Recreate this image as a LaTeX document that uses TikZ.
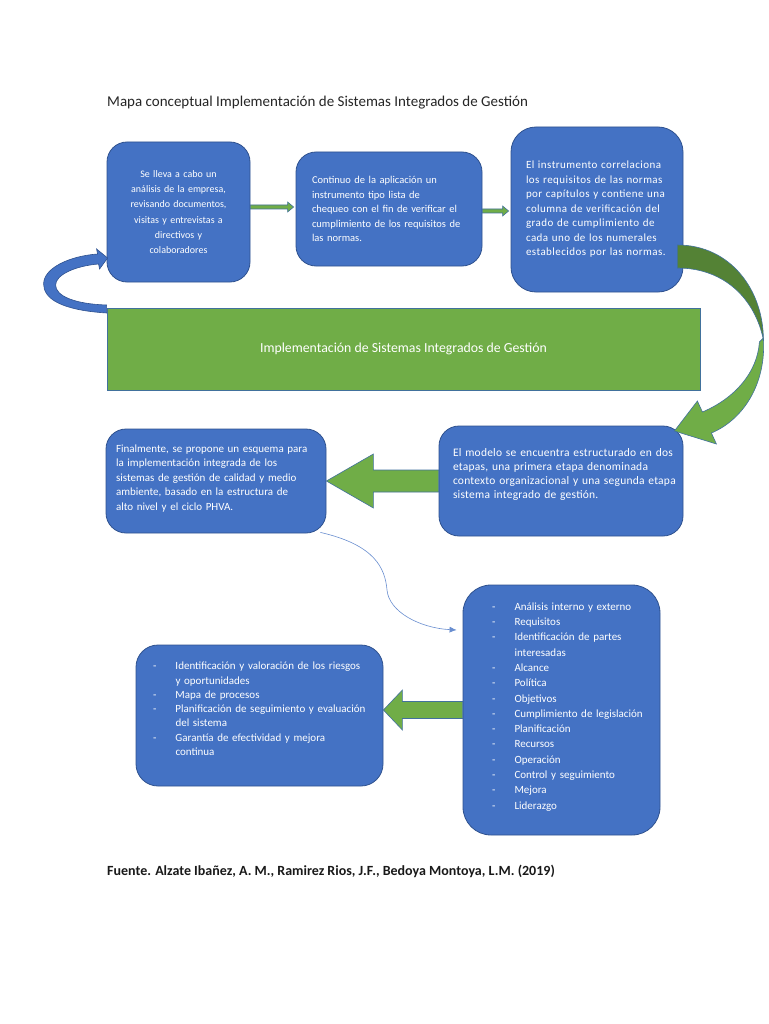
\documentclass[tikz,border=0pt]{standalone}
\usepackage{fontspec}
\setmainfont{Carlito}
\usetikzlibrary{calc,arrows.meta}

\definecolor{BoxBlue}{HTML}{4472C4}
\definecolor{EdgeBlue}{HTML}{2F528F}
\definecolor{LeafGreen}{HTML}{70AD47}
\definecolor{DeepGreen}{HTML}{548235}
\definecolor{EdgeSlate}{HTML}{41719C}

\tikzstyle{BlueBox}=[rectangle,draw=EdgeBlue,fill=BoxBlue,line width=0.8pt,
  rounded corners=20pt,text=white,inner sep=0pt,font=\fontsize{11}{14.5}\selectfont]
\tikzstyle{GreenBand}=[rectangle,draw=EdgeSlate,fill=LeafGreen,line width=0.6pt,
  text=white,font=\fontsize{13.8}{16}\selectfont]
\tikzstyle{BlockArrow}=[fill=LeafGreen,draw=EdgeSlate,line width=0.6pt]
\tikzstyle{ThinArrow}=[draw=BoxBlue!80,line width=0.6pt,-{Latex[length=7pt,width=6pt]}]

% list item with a dash and a hanging indent
\newcommand{\Guion}[1]{\par\hangindent=22.5pt\hangafter=1\noindent\makebox[22.5pt][l]{-}#1\par}
% raises the text of a box by half the given space
\newcommand{\Subir}[1]{\par\vspace*{#1}}
% straight block arrow: tail, tip, head length, head half width, shaft half width
\newcommand{\FlechaBloque}[5]{%
  \filldraw[BlockArrow] (#2) -- ($(#2)+(#3,-#4)$) -- ($(#2)+(#3,-#5)$) -- ($(#1)+(0,-#5)$)
    -- ($(#1)+(0,#5)$) -- ($(#2)+(#3,#5)$) -- ($(#2)+(#3,#4)$) -- cycle;}

\begin{document}
\begin{tikzpicture}[x=1pt, y=-1pt]
		\path[use as bounding box,fill=white] (0,0) rectangle (768,1024);
		
		% Title and source
		\node[anchor=base west,inner sep=0pt,text=black!85,font=\fontsize{15}{18}\selectfont] (Titulo) at (107,107)
		  {Mapa conceptual Implementación de Sistemas Integrados de Gestión};
		\node[anchor=base west,inner sep=0pt,text=black!90,font=\bfseries\fontsize{14}{17}\selectfont] (Fuente) at (107,875)
		  {Fuente. Alzate Ibañez, A. M., Ramirez Rios, J.F., Bedoya Montoya, L.M. (2019)};
		
		% Top row
		\node[BlueBox,minimum width=143pt,minimum height=140pt,text width=125pt,align=center,
		  font=\fontsize{10}{15.2}\selectfont] (Analisis) at (178.5,212)
		  {Se lleva a cabo un\\análisis de la empresa,\\revisando documentos,\\visitas y entrevistas a\\directivos y\\colaboradores};
		\node[BlueBox,minimum width=186pt,minimum height=114pt,text width=154pt,align=left,
		  font=\fontsize{10.5}{14.5}\selectfont] (Chequeo) at (389,209)
		  {Continuo de la aplicación un\\instrumento tipo lista de\\chequeo con el fin de verificar el\\cumplimiento de los requisitos de\\las normas.};
		\node[BlueBox,rounded corners=25pt,minimum width=172pt,minimum height=165pt,text width=142pt,align=left,
		  font=\fontsize{11}{14.5}\selectfont\addfontfeature{LetterSpace=4}] (Correlacion) at (597,209.5)
		  {El instrumento correlaciona\\los requisitos de las normas\\por capítulos y contiene una\\columna de verificación del\\grado de cumplimiento de\\cada uno de los numerales\\establecidos por las normas.};
		
		% Banner
		\node[GreenBand,minimum width=593pt,minimum height=82pt] (Banner) at (403.5,349)
		  {Implementación de Sistemas Integrados de Gestión};
		
		% Middle row
		\node[BlueBox,minimum width=244pt,minimum height=110pt,text width=230pt,align=left,
		  font=\fontsize{11.5}{14}\selectfont\addfontfeature{LetterSpace=2}] (Modelo) at (561,481)
		  {\leftskip=7pt El modelo se encuentra estructurado en dos\\etapas, una primera etapa denominada\\contexto organizacional y una segunda etapa\\sistema integrado de gestión.\Subir{14pt}};
		\node[BlueBox,minimum width=220pt,minimum height=104pt,text width=200pt,align=left] (Esquema) at (216,481)
		  {Finalmente, se propone un esquema para\\la implementación integrada de los\\sistemas de gestión de calidad y medio\\ambiente, basado en la estructura de\\alto nivel y el ciclo PHVA.\Subir{5pt}};
		
		% Bottom row
		\node[BlueBox,rounded corners=28pt,minimum width=197pt,minimum height=250pt,text width=170pt,align=left,
		  font=\fontsize{11}{15.3}\selectfont] (Etapas) at (561.5,710)
		  {\leftskip=15.5pt
		   \Guion{Análisis interno y externo}\Guion{Requisitos}\Guion{Identificación de partes\newline interesadas}
		   \Guion{Alcance}\Guion{Política}\Guion{Objetivos}\Guion{Cumplimiento de legislación}
		   \Guion{Planificación}\Guion{Recursos}\Guion{Operación}\Guion{Control y seguimiento}
		   \Guion{Mejora}\Guion{Liderazgo}\Subir{14pt}};
		\node[BlueBox,rounded corners=22pt,minimum width=247pt,minimum height=141pt,text width=220pt,align=left,
		  font=\fontsize{11}{14.3}\selectfont] (Riesgos) at (259.5,715.5)
		  {\leftskip=3.5pt
		   \Guion{Identificación y valoración de los riesgos\newline y oportunidades}\Guion{Mapa de procesos}
		   \Guion{Planificación de seguimiento y evaluación\newline del sistema}\Guion{Garantía de efectividad y mejora\newline continua}\Subir{20pt}};
		
		% Small arrows of the top row
		\coordinate (Flecha1a) at ($(Analisis.east)+(0,-5)$);
		\coordinate (Flecha1b) at ($(Chequeo.west |- Flecha1a)+(-2,0)$);
		\coordinate (Flecha2a) at ($(Chequeo.east)+(0,2)$);
		\coordinate (Flecha2b) at ($(Correlacion.west |- Flecha2a)+(-2,0)$);
		\FlechaBloque{Flecha1a}{Flecha1b}{-6}{5}{2}
		\FlechaBloque{Flecha2a}{Flecha2b}{-6}{5}{2}
		
		% Big arrows pointing left
		\FlechaBloque{Modelo.west}{Esquema.east}{47}{27}{11}
		\coordinate (Flecha4b) at (Riesgos.east |- Etapas.west);
		\FlechaBloque{Etapas.west}{Flecha4b}{19}{20}{8.5}
		
		% Curved arrow from the third box down to the model
		\begin{scope}[shift={(Correlacion.east)}]
		\filldraw[BlockArrow,fill=DeepGreen] (-6,35.5) .. controls (47,35.5) and (80,80.5) .. (80,130.5)
		  .. controls (72,90.5) and (42,58.5) .. (-6,58.5) -- cycle;
		\filldraw[BlockArrow] (80,128.5) .. controls (83,175.5) and (59,210.5) .. (28,223.5)
		  -- (33,234.5) -- (-9,221.5) -- (14,191.5) -- (19,202.5)
		  .. controls (52,188.5) and (74,162.5) .. (76,132.5) -- cycle;
		\end{scope}
		
		% Loop arrow from the banner back to the first box
		\begin{scope}[shift={(Analisis.west)}]
		\filldraw[fill=BoxBlue,draw=EdgeBlue,line width=0.6pt] (0,101) .. controls (-47,98) and (-63,86) .. (-63,72)
		  .. controls (-63,56) and (-37,44) .. (-9,42) -- (-10,37) -- (1,46) -- (-7,57) -- (-8,52)
		  .. controls (-32,54) and (-51,63) .. (-51,73) .. controls (-51,84) and (-32,92) .. (0,93) -- cycle;
		\end{scope}
		
		% Thin connector to the list of stages
		\coordinate (OndaInicio) at ($(Esquema.south east)+(-6,-1)$);
		\coordinate (OndaFin) at ($(Etapas.west)+(-6,-80)$);
		\draw[ThinArrow] (OndaInicio) .. controls (375,545) and (385,568) .. (387,590)
		  .. controls (389,612) and (420,628) .. (OndaFin);
		
	\end{tikzpicture}
\end{document}
